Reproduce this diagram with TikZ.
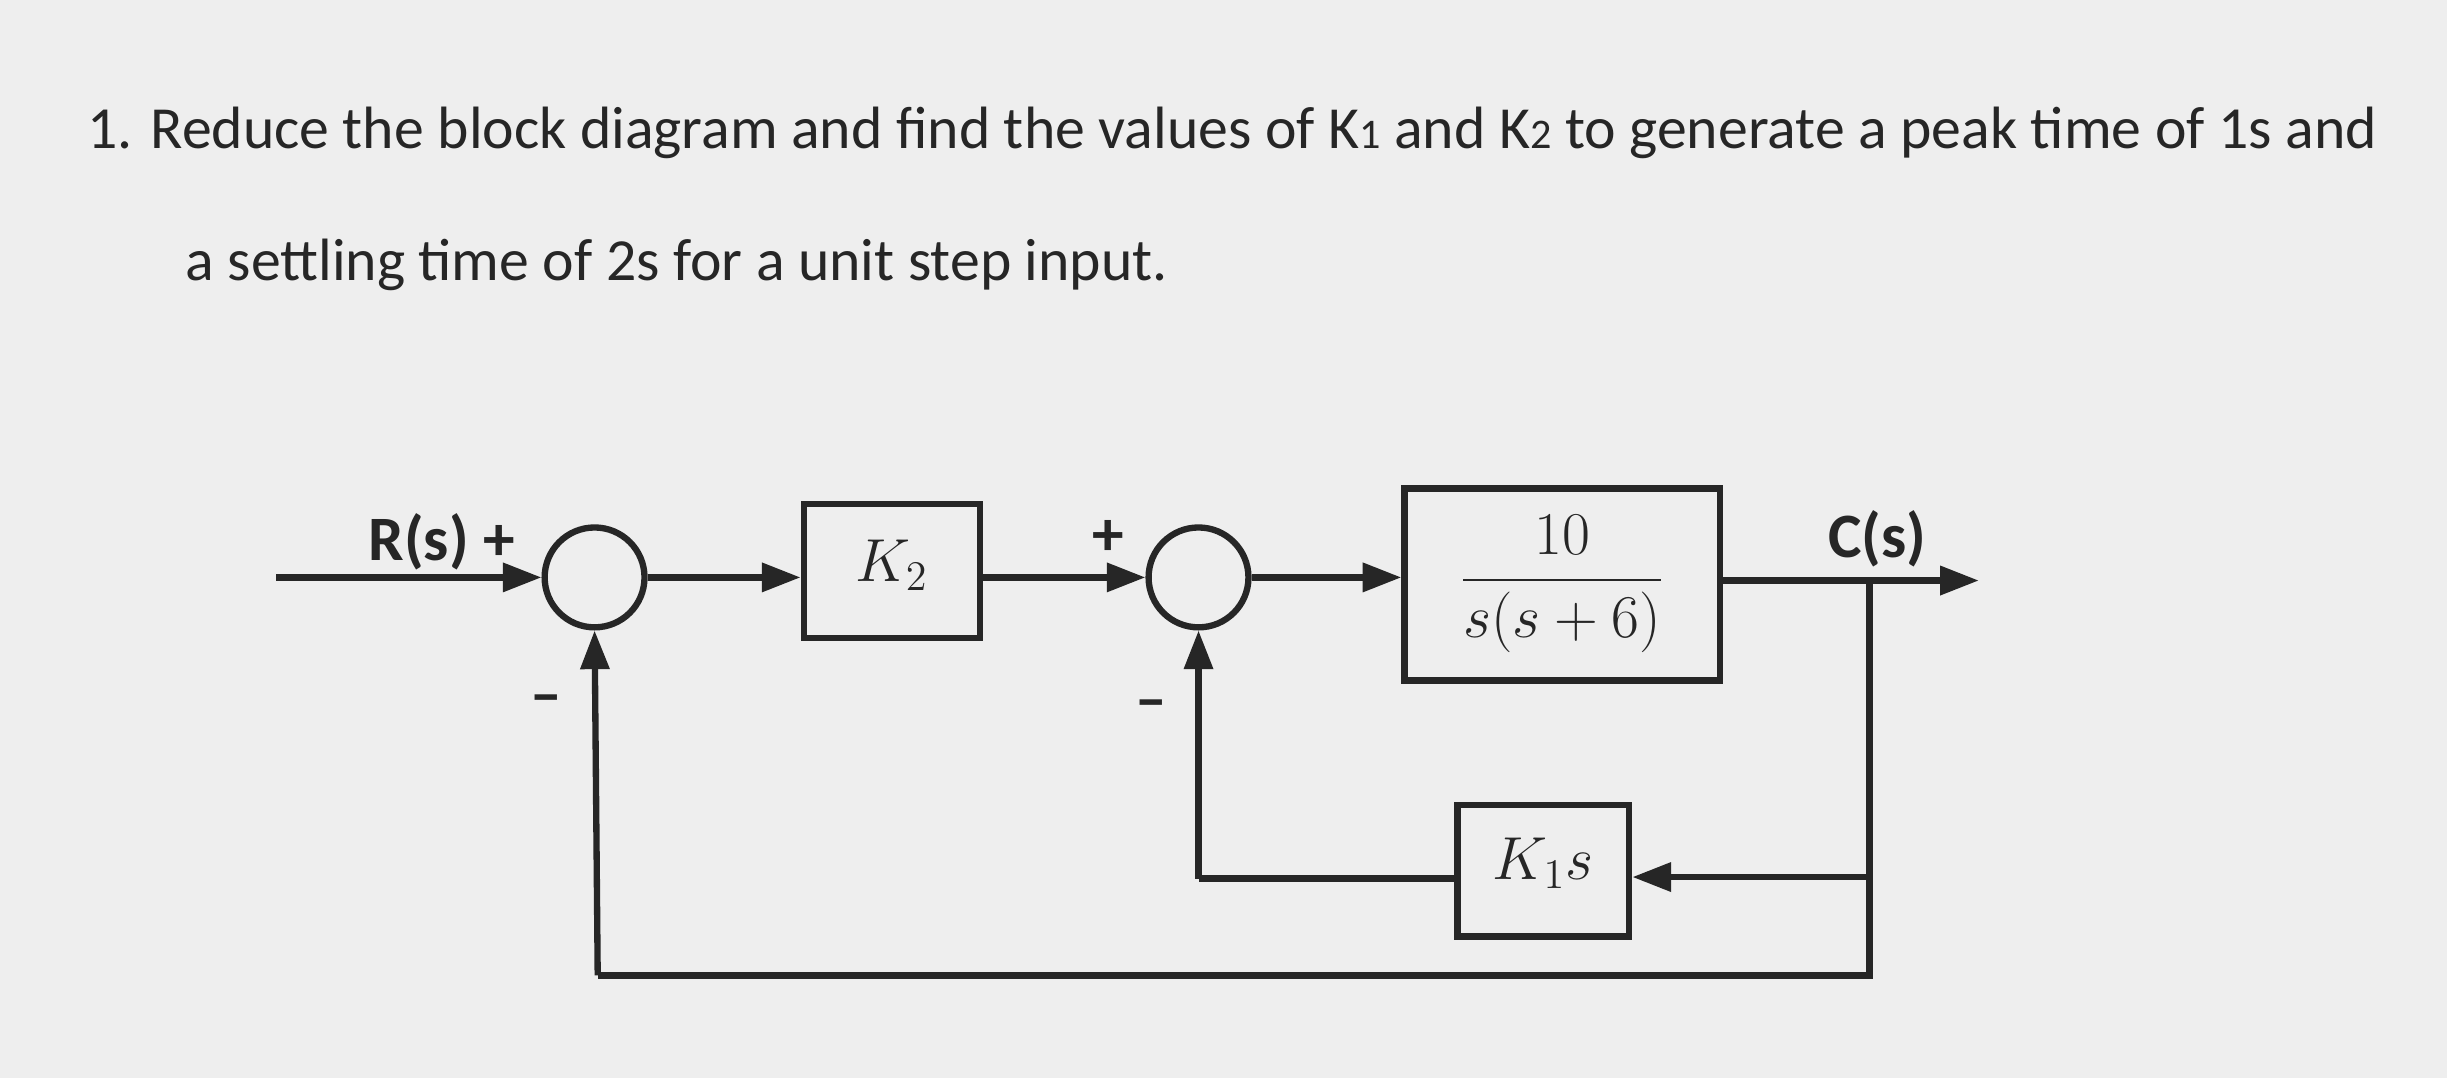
\documentclass[tikz,border=0pt]{standalone}
\usepackage{amsmath}
\usepackage{fontspec}
\setmainfont{Carlito}
\usetikzlibrary{arrows.meta}
\begin{document}
\begin{tikzpicture}[x=0.015606cm,y=-0.015606cm,
  ln/.style={line width=1.8pt,draw=black!85},
  arr/.style={ln,-{Triangle[length=11pt,width=8pt]}},
  blk/.style={draw=black!85,line width=1.8pt,rectangle,inner sep=0pt},
  sumc/.style={draw=black!85,line width=1.8pt,circle,minimum size=64*0.015606cm,inner sep=0pt},
  lbl/.style={font=\fontsize{18}{20}\selectfont\bfseries,text=black!85},
  mth/.style={font=\fontsize{17}{20}\selectfont,text=black!85}]
\fill[gray!13] (0,0) rectangle (1568,690.8);
\useasboundingbox (0,0) rectangle (1568,690.8);
\node[anchor=west,font=\fontsize{17}{20}\selectfont,text=black!85] (t1) at (48,85) {1. Reduce the block diagram and find the values of K{\fontsize{12}{14}\selectfont1} and K{\fontsize{12}{14}\selectfont2} to generate a peak time of 1s and};
\node[anchor=west,font=\fontsize{17}{20}\selectfont,text=black!85] (t2) at (111,170) {a settling time of 2s for a unit step input.};
\coordinate (in) at (177,370);
\node[sumc] (s1) at (381,370) {};
\node[blk,minimum width=113*0.015606cm,minimum height=86*0.015606cm] (k2) at (571.5,366) {};
\node[mth] at (571.5,362) {$K_2$};
\node[sumc] (s2) at (768,370) {};
\node[blk,minimum width=202*0.015606cm,minimum height=123*0.015606cm] (g) at (1001,374.5) {};
\node[mth] at (1001,374) {$\dfrac{10}{s(s+6)}$};
\node[blk,minimum width=110*0.015606cm,minimum height=84*0.015606cm] (k1) at (989,558) {};
\node[mth] at (989,553) {$K_1s$};
\coordinate (out) at (1268,372);
\coordinate (br) at (1198,372);
\coordinate (bk1) at (1198,562);
\coordinate (bot) at (1198,625);
\coordinate (botl) at (383,625);
\coordinate (k1l) at (768,563);
\draw[arr] (in) -- (s1.west);
\draw[arr] (s1.east) -- (k2.west |- s1.east);
\draw[arr] (k2.east |- s2.west) -- (s2.west);
\draw[arr] (s2.east) -- (g.west |- s2.east);
\draw[arr] (g.east |- out) -- (out);
\draw[ln] (br) -- (bot) -- (botl);
\draw[arr] (botl) -- (s1.south);
\draw[arr] (bk1) -- (k1.east |- bk1);
\draw[ln] (k1.west |- k1l) -- (k1l);
\draw[arr] (k1l) -- (s2.south);
\node[lbl] at (283,347) {R(s) +};
\node[lbl] at (710,345) {+};
\node[lbl] at (1203,345) {C(s)};
\node[lbl] at (350,452) {\textendash};
\node[lbl] at (738,455) {\textendash};
\end{tikzpicture}
\end{document}
